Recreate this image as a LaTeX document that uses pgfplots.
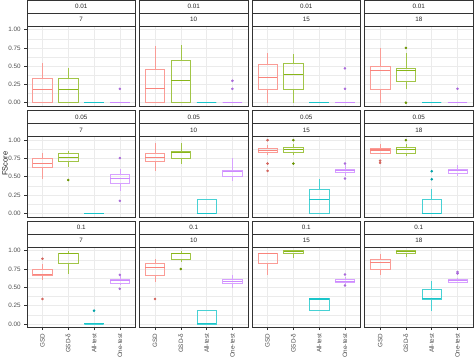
\documentclass[border=0pt]{standalone}
\usepackage{pgfplots}
\pgfplotsset{compat=1.18}
\usepgfplotslibrary{groupplots,statistics}
\usepackage{fontspec}
\setmainfont{Liberation Sans}

\definecolor{cA}{HTML}{F8766D}
\definecolor{cB}{HTML}{7CAE00}
\definecolor{cC}{HTML}{00BFC4}
\definecolor{cD}{HTML}{C77CFF}
\definecolor{gridc}{HTML}{EBEBEB}
\definecolor{framec}{HTML}{333333}
\definecolor{ticklab}{HTML}{4D4D4D}

\pgfplotsset{
  facet/.style={
    width=108.5pt, height=80.5pt, scale only axis,
    xmin=0.4, xmax=4.6, ymin=-0.05, ymax=1.05,
    xtick={1,2,3,4}, ytick={0,0.25,0.5,0.75,1},
    minor ytick={0.125,0.375,0.625,0.875},
    xmajorgrids, ymajorgrids, yminorgrids,
    major grid style={gridc, line width=0.5pt},
    minor grid style={gridc, line width=0.25pt},
    axis line style={framec, line width=0.6pt},
    xticklabels={}, yticklabels={},
    major tick length=2.75pt, minor tick length=0pt,
    tick align=outside, xtick pos=bottom, ytick pos=left,
    tick style={draw=none},
    tick label style={font=\fontsize{6.3}{7}\selectfont, text=ticklab},
    boxplot/draw direction=y,
    boxplot/box extend=0.75,
    boxplot/whisker extend=0,
  },
  bstyle/.style={#1!72!white, line width=0.55pt, mark=*, mark size=1pt, mark options={fill=#1!85!black, draw=#1!85!black},
    boxplot/every median/.style={draw=#1!90!white, line width=1.1pt}},
  gsd/.style={bstyle=cA},
  gsdd/.style={bstyle=cB},
  allt/.style={bstyle=cC},
  onet/.style={bstyle=cD},
  leftcol/.style={ytick style={draw=framec, line width=0.5pt}, yticklabels={0.00,0.25,0.50,0.75,1.00}},
  botrow/.style={xtick style={draw=framec, line width=0.5pt}, xticklabels={GSD,GSD-δ,All-test,One-test},
    x tick label style={rotate=90, anchor=east}},
}

\begin{document}
\begin{tikzpicture}
\begin{groupplot}[group style={group size=4 by 3, horizontal sep=4.2pt, vertical sep=30.2pt}, facet]
% ---------------- row 1: 0.01 ----------------
\nextgroupplot[leftcol]
\addplot[gsd, boxplot prepared={draw position=1, lower whisker=0, lower quartile=0, median=0.18, upper quartile=0.34, upper whisker=0.54}] coordinates {};
\addplot[gsdd, boxplot prepared={draw position=2, lower whisker=0, lower quartile=0, median=0.18, upper quartile=0.34, upper whisker=0.47}] coordinates {};
\addplot[allt, boxplot prepared={draw position=3, lower whisker=0, lower quartile=0, median=0, upper quartile=0, upper whisker=0}] coordinates {};
\addplot[onet, boxplot prepared={draw position=4, lower whisker=0, lower quartile=0, median=0, upper quartile=0, upper whisker=0}] table[row sep=\\, y index=0] {0.19\\};
\nextgroupplot
\addplot[gsd, boxplot prepared={draw position=1, lower whisker=0, lower quartile=0, median=0.195, upper quartile=0.46, upper whisker=0.77}] coordinates {};
\addplot[gsdd, boxplot prepared={draw position=2, lower whisker=0, lower quartile=0, median=0.30, upper quartile=0.58, upper whisker=0.79}] coordinates {};
\addplot[allt, boxplot prepared={draw position=3, lower whisker=0, lower quartile=0, median=0, upper quartile=0, upper whisker=0}] coordinates {};
\addplot[onet, boxplot prepared={draw position=4, lower whisker=0, lower quartile=0, median=0, upper quartile=0, upper whisker=0}] table[row sep=\\, y index=0] {0.30\\ 0.19\\};
\nextgroupplot
\addplot[gsd, boxplot prepared={draw position=1, lower whisker=0, lower quartile=0.19, median=0.345, upper quartile=0.53, upper whisker=0.68}] coordinates {};
\addplot[gsdd, boxplot prepared={draw position=2, lower whisker=0, lower quartile=0.19, median=0.385, upper quartile=0.54, upper whisker=0.67}] coordinates {};
\addplot[allt, boxplot prepared={draw position=3, lower whisker=0, lower quartile=0, median=0, upper quartile=0, upper whisker=0}] coordinates {};
\addplot[onet, boxplot prepared={draw position=4, lower whisker=0, lower quartile=0, median=0, upper quartile=0, upper whisker=0}] table[row sep=\\, y index=0] {0.47\\ 0.19\\};
\nextgroupplot
\addplot[gsd, boxplot prepared={draw position=1, lower whisker=0, lower quartile=0.19, median=0.44, upper quartile=0.505, upper whisker=0.75}] coordinates {};
\addplot[gsdd, boxplot prepared={draw position=2, lower whisker=0.19, lower quartile=0.295, median=0.44, upper quartile=0.477, upper whisker=0.68}] table[row sep=\\, y index=0] {0.75\\ 0\\};
\addplot[allt, boxplot prepared={draw position=3, lower whisker=0, lower quartile=0, median=0, upper quartile=0, upper whisker=0}] coordinates {};
\addplot[onet, boxplot prepared={draw position=4, lower whisker=0, lower quartile=0, median=0, upper quartile=0, upper whisker=0}] table[row sep=\\, y index=0] {0.19\\};
% ---------------- row 2: 0.05 ----------------
\nextgroupplot[leftcol]
\addplot[gsd, boxplot prepared={draw position=1, lower whisker=0.465, lower quartile=0.63, median=0.68, upper quartile=0.755, upper whisker=0.82}] coordinates {};
\addplot[gsdd, boxplot prepared={draw position=2, lower whisker=0.63, lower quartile=0.71, median=0.76, upper quartile=0.825, upper whisker=0.85}] table[row sep=\\, y index=0] {0.455\\};
\addplot[allt, boxplot prepared={draw position=3, lower whisker=0, lower quartile=0, median=0, upper quartile=0, upper whisker=0}] coordinates {};
\addplot[onet, boxplot prepared={draw position=4, lower whisker=0.30, lower quartile=0.405, median=0.47, upper quartile=0.54, upper whisker=0.60}] table[row sep=\\, y index=0] {0.755\\ 0.17\\};
\nextgroupplot
\addplot[gsd, boxplot prepared={draw position=1, lower whisker=0.58, lower quartile=0.71, median=0.76, upper quartile=0.82, upper whisker=0.96}] coordinates {};
\addplot[gsdd, boxplot prepared={draw position=2, lower whisker=0.68, lower quartile=0.75, median=0.83, upper quartile=0.85, upper whisker=0.96}] coordinates {};
\addplot[allt, boxplot prepared={draw position=3, lower whisker=0, lower quartile=0, median=0, upper quartile=0.185, upper whisker=0.185}] coordinates {};
\addplot[onet, boxplot prepared={draw position=4, lower whisker=0.44, lower quartile=0.50, median=0.57, upper quartile=0.595, upper whisker=0.755}] coordinates {};
\nextgroupplot
\addplot[gsd, boxplot prepared={draw position=1, lower whisker=0.80, lower quartile=0.83, median=0.86, upper quartile=0.895, upper whisker=0.93}] table[row sep=\\, y index=0] {1.0\\ 0.68\\ 0.58\\};
\addplot[gsdd, boxplot prepared={draw position=2, lower whisker=0.80, lower quartile=0.83, median=0.875, upper quartile=0.90, upper whisker=0.95}] table[row sep=\\, y index=0] {1.0\\ 0.68\\};
\addplot[allt, boxplot prepared={draw position=3, lower whisker=0, lower quartile=0, median=0.19, upper quartile=0.335, upper whisker=0.465}] coordinates {};
\addplot[onet, boxplot prepared={draw position=4, lower whisker=0.51, lower quartile=0.555, median=0.585, upper quartile=0.60, upper whisker=0.665}] table[row sep=\\, y index=0] {0.68\\ 0.475\\};
\nextgroupplot
\addplot[gsd, boxplot prepared={draw position=1, lower whisker=0.81, lower quartile=0.825, median=0.865, upper quartile=0.895, upper whisker=0.95}] table[row sep=\\, y index=0] {0.72\\ 0.69\\};
\addplot[gsdd, boxplot prepared={draw position=2, lower whisker=0.79, lower quartile=0.82, median=0.87, upper quartile=0.90, upper whisker=0.95}] table[row sep=\\, y index=0] {1.0\\};
\addplot[allt, boxplot prepared={draw position=3, lower whisker=0, lower quartile=0, median=0, upper quartile=0.19, upper whisker=0.335}] table[row sep=\\, y index=0] {0.465\\ 0.575\\};
\addplot[onet, boxplot prepared={draw position=4, lower whisker=0.51, lower quartile=0.545, median=0.58, upper quartile=0.60, upper whisker=0.665}] coordinates {};
% ---------------- row 3: 0.1 ----------------
\nextgroupplot[leftcol, botrow]
\addplot[gsd, boxplot prepared={draw position=1, lower whisker=0.60, lower quartile=0.665, median=0.68, upper quartile=0.75, upper whisker=0.825}] table[row sep=\\, y index=0] {0.89\\ 0.34\\};
\addplot[gsdd, boxplot prepared={draw position=2, lower whisker=0.68, lower quartile=0.835, median=0.96, upper quartile=0.96, upper whisker=1.0}] coordinates {};
\addplot[allt, boxplot prepared={draw position=3, lower whisker=0, lower quartile=0, median=0, upper quartile=0, upper whisker=0}] table[row sep=\\, y index=0] {0.18\\};
\addplot[onet, boxplot prepared={draw position=4, lower whisker=0.525, lower quartile=0.56, median=0.59, upper quartile=0.61, upper whisker=0.65}] table[row sep=\\, y index=0] {0.67\\ 0.48\\};
\nextgroupplot[botrow]
\addplot[gsd, boxplot prepared={draw position=1, lower whisker=0.57, lower quartile=0.67, median=0.765, upper quartile=0.835, upper whisker=0.89}] table[row sep=\\, y index=0] {0.34\\};
\addplot[gsdd, boxplot prepared={draw position=2, lower whisker=0.85, lower quartile=0.89, median=0.96, upper quartile=0.96, upper whisker=1.0}] table[row sep=\\, y index=0] {0.75\\};
\addplot[allt, boxplot prepared={draw position=3, lower whisker=0, lower quartile=0, median=0, upper quartile=0.18, upper whisker=0.18}] coordinates {};
\addplot[onet, boxplot prepared={draw position=4, lower whisker=0.49, lower quartile=0.55, median=0.58, upper quartile=0.605, upper whisker=0.67}] coordinates {};
\nextgroupplot[botrow]
\addplot[gsd, boxplot prepared={draw position=1, lower whisker=0.67, lower quartile=0.835, median=0.96, upper quartile=0.96, upper whisker=0.96}] coordinates {};
\addplot[gsdd, boxplot prepared={draw position=2, lower whisker=0.90, lower quartile=0.96, median=0.985, upper quartile=1.0, upper whisker=1.0}] coordinates {};
\addplot[allt, boxplot prepared={draw position=3, lower whisker=0.18, lower quartile=0.18, median=0.34, upper quartile=0.35, upper whisker=0.35}] coordinates {};
\addplot[onet, boxplot prepared={draw position=4, lower whisker=0.54, lower quartile=0.565, median=0.585, upper quartile=0.61, upper whisker=0.64}] table[row sep=\\, y index=0] {0.675\\ 0.525\\};
\nextgroupplot[botrow]
\addplot[gsd, boxplot prepared={draw position=1, lower whisker=0.67, lower quartile=0.75, median=0.845, upper quartile=0.89, upper whisker=0.95}] coordinates {};
\addplot[gsdd, boxplot prepared={draw position=2, lower whisker=0.92, lower quartile=0.96, median=0.985, upper quartile=1.0, upper whisker=1.0}] coordinates {};
\addplot[allt, boxplot prepared={draw position=3, lower whisker=0.18, lower quartile=0.34, median=0.35, upper quartile=0.475, upper whisker=0.58}] coordinates {};
\addplot[onet, boxplot prepared={draw position=4, lower whisker=0.57, lower quartile=0.575, median=0.59, upper quartile=0.61, upper whisker=0.63}] table[row sep=\\, y index=0] {0.71\\ 0.69\\};
\end{groupplot}
% strips
\foreach \c/\lab in {1/7,2/10,3/15,4/18} {
  \foreach \r/\rl in {1/0.01,2/0.05,3/0.1} {
    \draw[framec, fill=white, line width=0.6pt] (group c\c r\r.north west) rectangle ([yshift=13pt]group c\c r\r.north east);
    \node[font=\fontsize{6.3}{7}\selectfont, text=black!85] at ([yshift=6.5pt]$(group c\c r\r.north west)!0.5!(group c\c r\r.north east)$) {\lab};
    \draw[framec, fill=white, line width=0.6pt] ([yshift=13pt]group c\c r\r.north west) rectangle ([yshift=26pt]group c\c r\r.north east);
    \node[font=\fontsize{6.3}{7}\selectfont, text=black!85] at ([yshift=19.5pt]$(group c\c r\r.north west)!0.5!(group c\c r\r.north east)$) {\rl};
  }
}
\node[rotate=90, font=\fontsize{7.5}{9}\selectfont, text=black!90] at ([xshift=-22pt, yshift=13pt]group c1r2.west) {FScore};
\pgfresetboundingbox
\path[use as bounding box] ([xshift=-27pt, yshift=26pt]group c1r1.north west) rectangle ([xshift=1pt, yshift=-30pt]group c4r3.south east);
\end{tikzpicture}
\end{document}
